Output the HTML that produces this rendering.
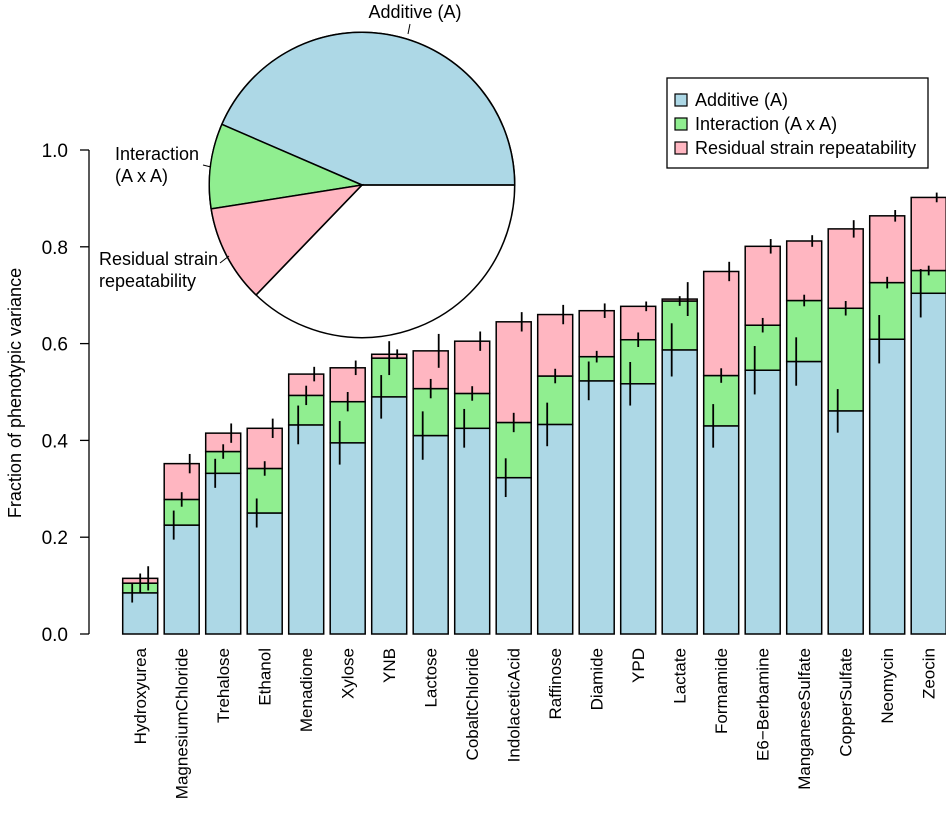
<!DOCTYPE html>
<html><head><meta charset="utf-8"><style>
body{margin:0;background:#fff}
svg{font-family:"Liberation Sans",sans-serif}
</style></head><body>
<svg id="c" width="946" height="829" xmlns="http://www.w3.org/2000/svg"></svg>
<script>
const categories=["Hydroxyurea","MagnesiumChloride","Trehalose","Ethanol","Menadione","Xylose","YNB","Lactose","CobaltChloride","IndolaceticAcid","Raffinose","Diamide","YPD","Lactate","Formamide","E6\u2212Berbamine","ManganeseSulfate","CopperSulfate","Neomycin","Zeocin"];
const additive=[0.085,0.225,0.332,0.25,0.432,0.395,0.49,0.41,0.425,0.323,0.433,0.523,0.517,0.587,0.43,0.545,0.563,0.461,0.609,0.704];
const addInter=[0.105,0.278,0.377,0.342,0.493,0.48,0.57,0.507,0.497,0.437,0.533,0.573,0.608,0.688,0.534,0.638,0.689,0.673,0.726,0.751];
const total=[0.115,0.352,0.415,0.425,0.537,0.55,0.578,0.585,0.605,0.645,0.66,0.668,0.677,0.692,0.749,0.801,0.812,0.837,0.864,0.902];
const errA=[0.02,0.03,0.03,0.03,0.04,0.045,0.045,0.05,0.04,0.04,0.045,0.04,0.045,0.055,0.045,0.05,0.05,0.045,0.05,0.05];
const errI=[0.02,0.015,0.015,0.015,0.02,0.02,0.035,0.02,0.015,0.02,0.015,0.012,0.015,0.01,0.015,0.015,0.012,0.015,0.012,0.01];
const errR=[0.025,0.02,0.02,0.02,0.015,0.015,0.01,0.035,0.02,0.02,0.02,0.015,0.01,0.035,0.02,0.015,0.012,0.018,0.012,0.01];
const yTicks=["0.0","0.2","0.4","0.6","0.8","1.0"];
const pieValues=[0.435,0.09,0.103];
const pieColors=["#add8e6","#90ee90","#ffb6c1"];
const legendLabels=["Additive (A)","Interaction (A x A)","Residual strain repeatability"];

const svg=document.getElementById('c');
const NS="http://www.w3.org/2000/svg";
function mk(t,a,parent){const e=document.createElementNS(NS,t);for(const k in a)e.setAttribute(k,a[k]);(parent||svg).appendChild(e);return e;}
const y0=634,ySc=484,x0=122.7,step=41.5,bw=35;
const Y=v=>y0-v*ySc, X=i=>x0+i*step;

// y axis
let ax=mk('line',{x1:89,x2:89,y1:Y(0),y2:Y(1),stroke:'#000','stroke-width':1.3});

yTicks.forEach(t=>{const v=parseFloat(t);
 mk('line',{x1:80,x2:89,y1:Y(v),y2:Y(v),stroke:'#000','stroke-width':1.3});
 const tx=mk('text',{x:68,y:Y(v)+7,'text-anchor':'end','font-size':19});tx.textContent=t;
 });
const yt=mk('text',{x:0,y:0,transform:'translate(21,393) rotate(-90)','text-anchor':'middle','font-size':18});
yt.textContent='Fraction of phenotypic variance';


categories.forEach((c,i)=>{const x=X(i);
 const segs=[[0,additive[i],'#add8e6'],[additive[i],addInter[i],'#90ee90'],[addInter[i],total[i],'#ffb6c1']];
 segs.forEach(s=>{const r=mk('rect',{x:x,y:Y(s[1]),width:bw,height:Y(s[0])-Y(s[1]),fill:s[2],stroke:'#000','stroke-width':1.5});
  });
 [[additive[i],errA[i],9.5],[addInter[i],errI[i],17.5],[total[i],errR[i],25.5]].forEach(e=>{
  const l=mk('line',{x1:x+e[2],x2:x+e[2],y1:Y(e[0]-e[1]),y2:Y(e[0]+e[1]),stroke:'#000','stroke-width':1.8});
  });
 const t=mk('text',{x:0,y:0,transform:`translate(${x+bw/2+6},648) rotate(-90)`,'text-anchor':'end','font-size':17});
 t.textContent=c;
});

// pie
const cx=362,cy=185,R=152.7;
let a0=0;
mk('circle',{cx:cx,cy:cy,r:R,fill:'#fff',stroke:'#000','stroke-width':1.5});
pieValues.forEach((v,i)=>{const a1=a0+v*2*Math.PI;
 const p=`M${cx},${cy} L${cx+R*Math.cos(a0)},${cy-R*Math.sin(a0)} A${R},${R} 0 ${v>0.5?1:0} 0 ${cx+R*Math.cos(a1)},${cy-R*Math.sin(a1)} Z`;
 const s=mk('path',{d:p,fill:pieColors[i],stroke:'#000','stroke-width':1.5});
 
 a0=a1;});
mk('line',{x1:cx,y1:cy,x2:cx+R*Math.cos(a0),y2:cy-R*Math.sin(a0),stroke:'#000','stroke-width':1.5});
mk('line',{x1:cx,y1:cy,x2:cx+R,y2:cy,stroke:'#000','stroke-width':1.5});
function lab(txt,x,y,anchor){const t=mk('text',{x:x,y:y,'text-anchor':anchor,'font-size':18});t.textContent=txt;
 }
lab('Additive (A)',415,18,'middle');
mk('line',{x1:410,y1:24,x2:408,y2:34,stroke:'#000'});
lab('Interaction',115,160,'start');lab('(A x A)',115,182,'start');
mk('line',{x1:203,y1:165,x2:211,y2:167,stroke:'#000'});
lab('Residual strain',99,265,'start');lab('repeatability',99,287,'start');
mk('line',{x1:220,y1:263,x2:229,y2:256,stroke:'#000'});

// legend
const lg=mk('rect',{x:667,y:78,width:261,height:90,fill:'#fff',stroke:'#000','stroke-width':1.3});

legendLabels.forEach((l,i)=>{const yy=100+i*24;
 const s=mk('rect',{x:675,y:yy-6,width:12,height:12,fill:pieColors[i],stroke:'#000','stroke-width':1.2});
 
 const t=mk('text',{x:695,y:yy+6,'font-size':18});t.textContent=l;
 });
</script>
</body></html>
